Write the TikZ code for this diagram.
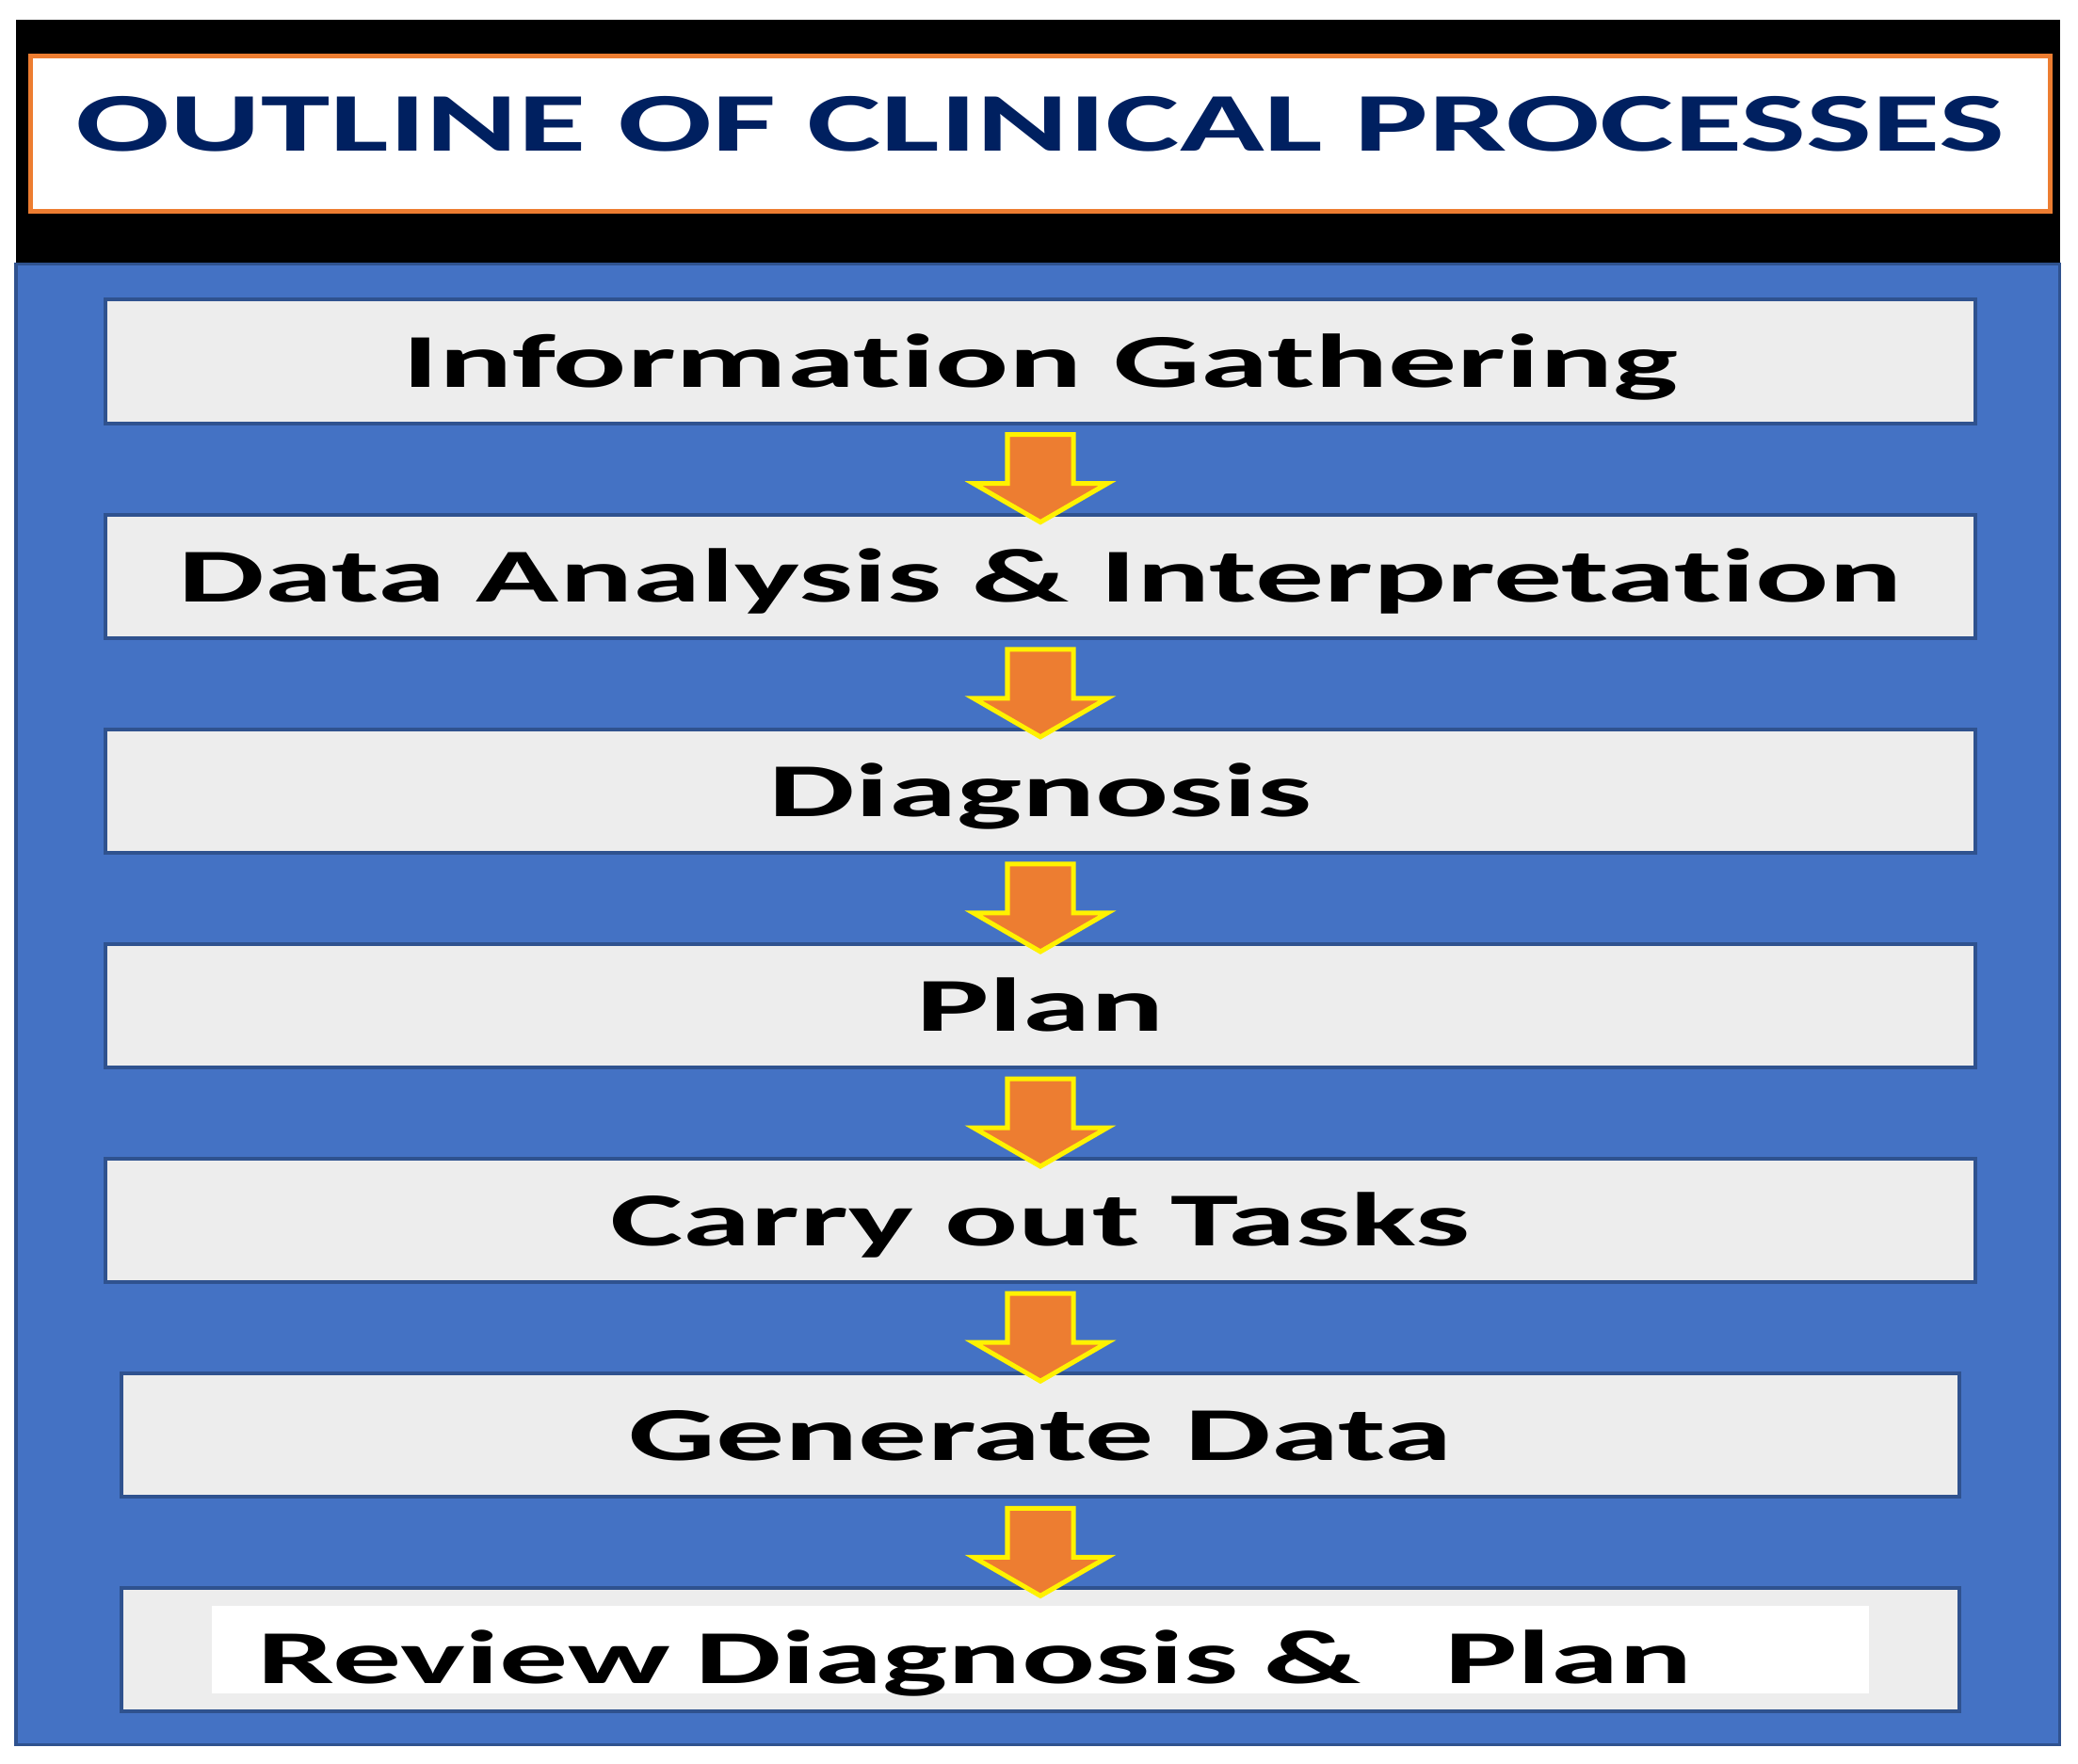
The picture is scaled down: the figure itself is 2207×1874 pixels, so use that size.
\documentclass[tikz,border=0pt]{standalone}
\usepackage{fontspec}
\setmainfont{Carlito}[FakeStretch=1.8,Ligatures=NoCommon]
\newfontfamily\titlefont{Carlito}[FakeStretch=1.67,Ligatures=NoCommon]
\usetikzlibrary{shapes.arrows,positioning}
\definecolor{officeblue}{HTML}{4472C4}
\definecolor{boxedge}{HTML}{2F528F}
\definecolor{boxgray}{HTML}{EDEDED}
\definecolor{arroworange}{HTML}{ED7D31}
\definecolor{titlenavy}{HTML}{002060}

\begin{document}
\begin{tikzpicture}[x=0.01cm,y=-0.01cm,node distance=2.28cm,
  stepbox/.style={draw=boxedge,fill=boxgray,line width=0.04cm,minimum width=19.84cm,minimum height=1.31cm,inner sep=0pt,text height=0.54cm,text depth=0pt,font=\fontsize{23}{27}\selectfont\bfseries},
  titlebox/.style={draw=arroworange,fill=white,line width=0.05cm,minimum width=21.43cm,minimum height=1.65cm,inner sep=0pt,text height=0.57cm,text depth=0.19cm,text=titlenavy,font=\titlefont\fontsize{25.2}{30}\selectfont\bfseries},
  flowarrow/.style={single arrow,draw=yellow,fill=arroworange,line width=0.05cm,rotate=-90,minimum height=0.93cm,inner xsep=0pt,inner ysep=0.325cm,text height=0pt,text depth=0pt,single arrow head extend=0.36cm,single arrow tip angle=120}]

      \useasboundingbox (0,0) rectangle (2207,1874);
      \fill[black] (17,21) rectangle (2188,281);
      \draw[boxedge,fill=officeblue,line width=0.03cm] (17,281) rectangle (2187,1853);

      \node[titlebox] (title) at (1105,142) {OUTLINE OF CLINICAL PROCESSES\hspace{0.4cm}};

      \node[stepbox] (info) at (1105,384) {Information Gathering};
      \node[stepbox] (analysis) [below of=info] {Data Analysis \& Interpretation};
      \node[stepbox] (diag) [below of=analysis] {Diagnosis};
      \node[stepbox] (plan) [below of=diag] {Plan};
      \node[stepbox] (tasks) [below of=plan] {Carry out Tasks};
      \node[stepbox,minimum width=19.51cm] (generate) [below of=tasks] {Generate Data};
      \node[stepbox,minimum width=19.51cm] (review) [below of=generate] {};
      \node[fill=white,inner sep=0pt,minimum width=17.58cm,minimum height=0.93cm,text width=16.62cm,align=left,text height=0.71cm,text depth=0pt,font=\fontsize{23}{27}\selectfont\bfseries] (reviewlabel) at (review) {Review Diagnosis \&\hspace{1.1em}Plan};

      \foreach \a/\b in {info/analysis,analysis/diag,diag/plan,plan/tasks,tasks/generate,generate/review}
        \path (\a.south) -- (\b.north) node[midway,flowarrow] {};

\end{tikzpicture}
\end{document}
